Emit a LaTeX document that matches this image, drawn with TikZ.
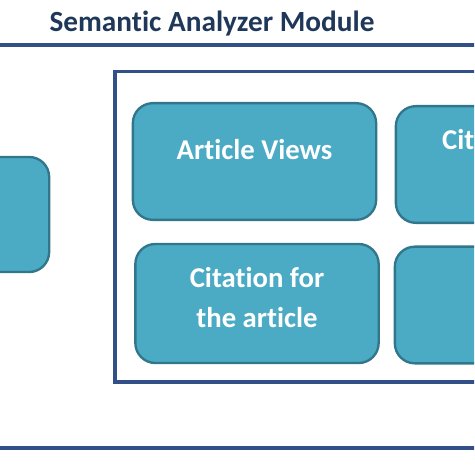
\documentclass[tikz,border=0pt]{standalone}
\usepackage{fontspec}
\setmainfont[Ligatures=NoCommon]{Carlito}
\usepackage{tikz}
\usetikzlibrary{positioning}
\usepackage{xcolor}
\definecolor{titleblue}{RGB}{31,56,90}
\definecolor{frameblue}{RGB}{50,80,135}
\definecolor{boxfill}{RGB}{75,170,196}
\definecolor{boxline}{RGB}{50,118,140}

\begin{document}
\begin{tikzpicture}[x=0.03cm, y=-0.03cm,
    box/.style = {draw=boxline, fill=boxfill, line width=2pt, rounded corners=0.6cm,
                  minimum width=7.3cm, minimum height=3.5cm},
    boxtext/.style = {text=white, font=\bfseries\fontsize{24.5}{34}\selectfont, align=center},
    frame/.style = {draw=frameblue, line width=2.6pt}
    ]
    \useasboundingbox (0,0) rectangle (474,474);
    \clip (0,0) rectangle (474,474);

    \node[text=titleblue, font=\bfseries\fontsize{25}{28}\selectfont] (title) at (212,24) {Semantic Analyzer Module};

    % outer module frame
    \draw[frame] (-20,45) rectangle (500,448);
    % inner frame
    \draw[frame] (115,71.5) rectangle (500,382);

    \node[box, minimum height=3.45cm] (input) at (-72.5,214.5) {};

    \node[box] (views) at (254.5,161.5) {};
    \node[box] (cite) at (517.5,164.5) {};
    \node[box, minimum height=3.57cm] (citart) at (257,303.5) {};
    \node[box] (other) at (516.5,305) {};

    \node[boxtext] (viewslbl) at ([yshift=0.35cm]views.center) {Article Views};
    \node[boxtext, anchor=west] (citelbl) at (438,140) {Cit};
    \node[boxtext] (citartlbl) at ([yshift=0.17cm]citart.center) {Citation for\\the article};
\end{tikzpicture}
\end{document}
